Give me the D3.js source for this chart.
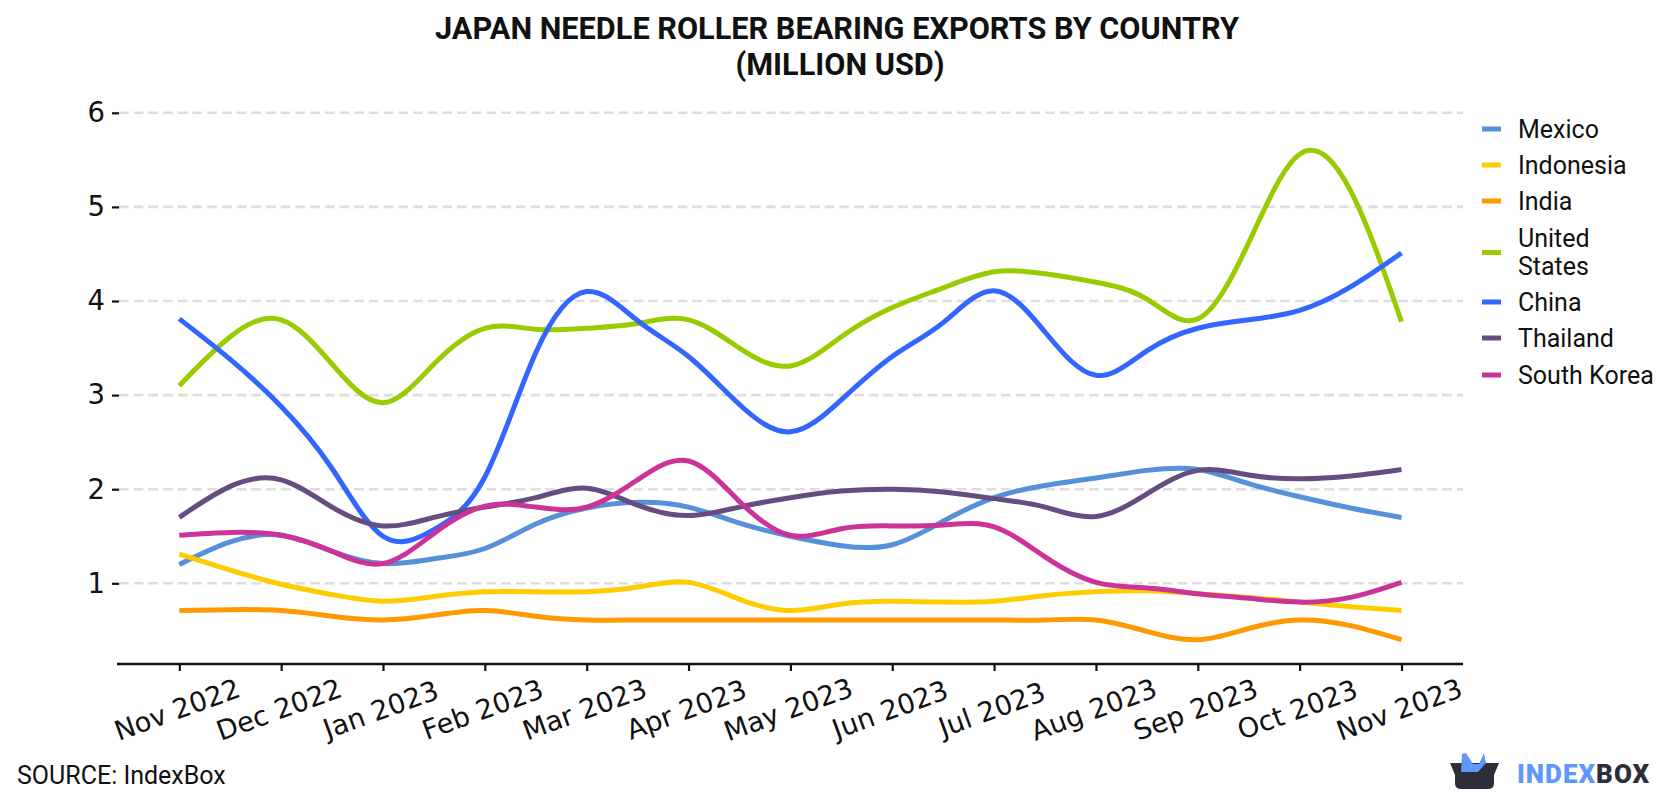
<!DOCTYPE html>
<html><head><meta charset="utf-8">
<script src="https://cdnjs.cloudflare.com/ajax/libs/d3/7.8.5/d3.min.js"></script>
<style>html,body{margin:0;padding:0;background:#fff}svg{display:block}</style>
</head><body><svg id="c" width="1680" height="800"></svg>
<script>
const months=["Nov 2022","Dec 2022","Jan 2023","Feb 2023","Mar 2023","Apr 2023","May 2023","Jun 2023","Jul 2023","Aug 2023","Sep 2023","Oct 2023","Nov 2023"];
const yTicks=[1,2,3,4,5,6];
// Each series holds one reading per half month, Nov 2022 through Nov 2023.
const mexico=[1.20,1.44,1.51,1.34,1.21,1.26,1.37,1.63,1.80,1.86,1.81,1.64,1.50,1.40,1.41,1.66,1.91,2.04,2.12,2.20,2.21,2.06,1.92,1.80,1.70];
const indonesia=[1.31,1.14,0.99,0.88,0.81,0.86,0.91,0.91,0.91,0.96,1.01,0.83,0.71,0.78,0.81,0.80,0.81,0.87,0.91,0.92,0.89,0.85,0.80,0.75,0.71];
const india=[0.71,0.72,0.71,0.65,0.61,0.66,0.71,0.65,0.61,0.61,0.61,0.61,0.61,0.61,0.61,0.61,0.61,0.61,0.61,0.49,0.40,0.52,0.61,0.55,0.40];
const unitedStates=[3.10,3.62,3.80,3.33,2.92,3.33,3.71,3.70,3.71,3.76,3.80,3.50,3.31,3.62,3.93,4.14,4.31,4.29,4.20,4.02,3.81,4.62,5.56,5.17,3.78];
const china=[3.81,3.38,2.88,2.22,1.50,1.57,2.13,3.45,4.10,3.79,3.41,2.90,2.61,2.95,3.41,3.77,4.11,3.67,3.21,3.47,3.71,3.80,3.90,4.15,4.51];
const thailand=[1.70,2.03,2.10,1.81,1.61,1.70,1.81,1.91,2.01,1.83,1.72,1.81,1.91,1.98,2.00,1.97,1.90,1.81,1.71,1.95,2.20,2.15,2.11,2.14,2.21];
const southKorea=[1.51,1.54,1.51,1.34,1.21,1.53,1.82,1.81,1.81,2.10,2.30,1.87,1.51,1.58,1.61,1.62,1.60,1.28,1.01,0.95,0.89,0.84,0.80,0.85,1.01];
const seriesNames=["Mexico","Indonesia","India","United States","China","Thailand","South Korea"];
const seriesValues=[mexico,indonesia,india,unitedStates,china,thailand,southKorea];
const seriesColors=["#5590d8","#ffcc00","#ff9900","#99cc00","#3366ff","#664d80","#cc3399"];
const legendLines=[["Mexico"],["Indonesia"],["India"],["United","States"],["China"],["Thailand"],["South Korea"]];

const svg=d3.select("#c");
const x=d3.scaleLinear().domain([0,months.length-1]).range([179.3,1401.5]);
const y=d3.scaleLinear().domain([1,6]).range([583.3,112.8]);
const axisFont="'DejaVu Sans',sans-serif", textFont="Roboto,sans-serif";

// horizontal grid
svg.append("g").selectAll("line").data(yTicks).join("line")
  .attr("x1",119).attr("x2",1463).attr("y1",d=>y(d)).attr("y2",d=>y(d))
  .attr("stroke","#dedede").attr("stroke-width",2.6).attr("stroke-dasharray","9.7 5");

// axes
const gy=svg.append("g").attr("transform","translate(119,0)")
  .call(d3.axisLeft(y).tickValues(yTicks).tickSize(7).tickPadding(7).tickFormat(d3.format("d")));
gy.select(".domain").remove();
gy.selectAll("line").attr("stroke","#111").attr("stroke-width",2.2);
gy.selectAll("text").attr("font-family",axisFont).attr("font-size",27.5).attr("fill","#111");

const gx=svg.append("g").attr("transform","translate(0,664)")
  .call(d3.axisBottom(x).tickValues(d3.range(months.length)).tickSize(7).tickSizeOuter(0).tickFormat(i=>months[i]));
gx.select(".domain").attr("d","M117,0H1463").attr("stroke","#111").attr("stroke-width",2.4);
gx.selectAll("line").attr("stroke","#111").attr("stroke-width",2.2);
gx.selectAll("text").attr("font-family",axisFont).attr("font-size",27.3).attr("fill","#111")
  .attr("text-anchor","middle").attr("dy",0).attr("y",0)
  .attr("transform","translate(0.6,54.5) rotate(-20)");

// series lines
const line=d3.line().x((d,i)=>x(i/2)).y(d=>y(d)).curve(d3.curveNatural);
svg.append("g").selectAll("path").data(seriesValues).join("path")
  .attr("d",line).attr("fill","none").attr("stroke",(d,i)=>seriesColors[i])
  .attr("stroke-width",5).attr("stroke-linecap","butt").attr("stroke-linejoin","round");

// legend
const legendY=[129,165,201,252.5,302,338,375];
const lg=svg.append("g");
legendLines.forEach((rows,i)=>{
  lg.append("rect").attr("x",1482).attr("y",legendY[i]-2.5).attr("width",19).attr("height",5).attr("fill",seriesColors[i]);
  const top=legendY[i]-(rows.length-1)*14;
  rows.forEach((t,j)=>lg.append("text").attr("x",1518).attr("y",top+j*28+8.5)
    .attr("font-family",textFont).attr("font-size",25).attr("fill","#111").text(t));
});

// title and source
const title=svg.append("g").attr("font-family",textFont).attr("font-weight",700).attr("font-size",30.7).attr("text-anchor","middle").attr("fill","#111");
title.append("text").attr("x",837).attr("y",38.5).text("JAPAN NEEDLE ROLLER BEARING EXPORTS BY COUNTRY");
title.append("text").attr("x",840).attr("y",74.5).text("(MILLION USD)");
svg.append("text").attr("x",17).attr("y",784).attr("font-family",textFont).attr("font-size",25).attr("fill","#111").text("SOURCE: IndexBox");

// brand mark
const logo=svg.append("g");
logo.append("path").attr("d","M1450,763H1499L1494,775V783Q1494,789 1488,789H1461Q1455,789 1455,783V775Z").attr("fill","#2c2e3a");
logo.append("path").attr("d","M1462,754L1466,753L1473,764L1479,764L1484,753L1486,763L1478,772H1461Z").attr("fill","#5f96ff");
const brand=logo.append("text").attr("x",1517).attr("y",783).attr("font-family",textFont).attr("font-weight",900).attr("font-size",26).attr("letter-spacing",1);
brand.append("tspan").attr("fill","#5f96ff").text("INDEX");
brand.append("tspan").attr("fill","#2c2e3a").text("BOX");
</script></body></html>
